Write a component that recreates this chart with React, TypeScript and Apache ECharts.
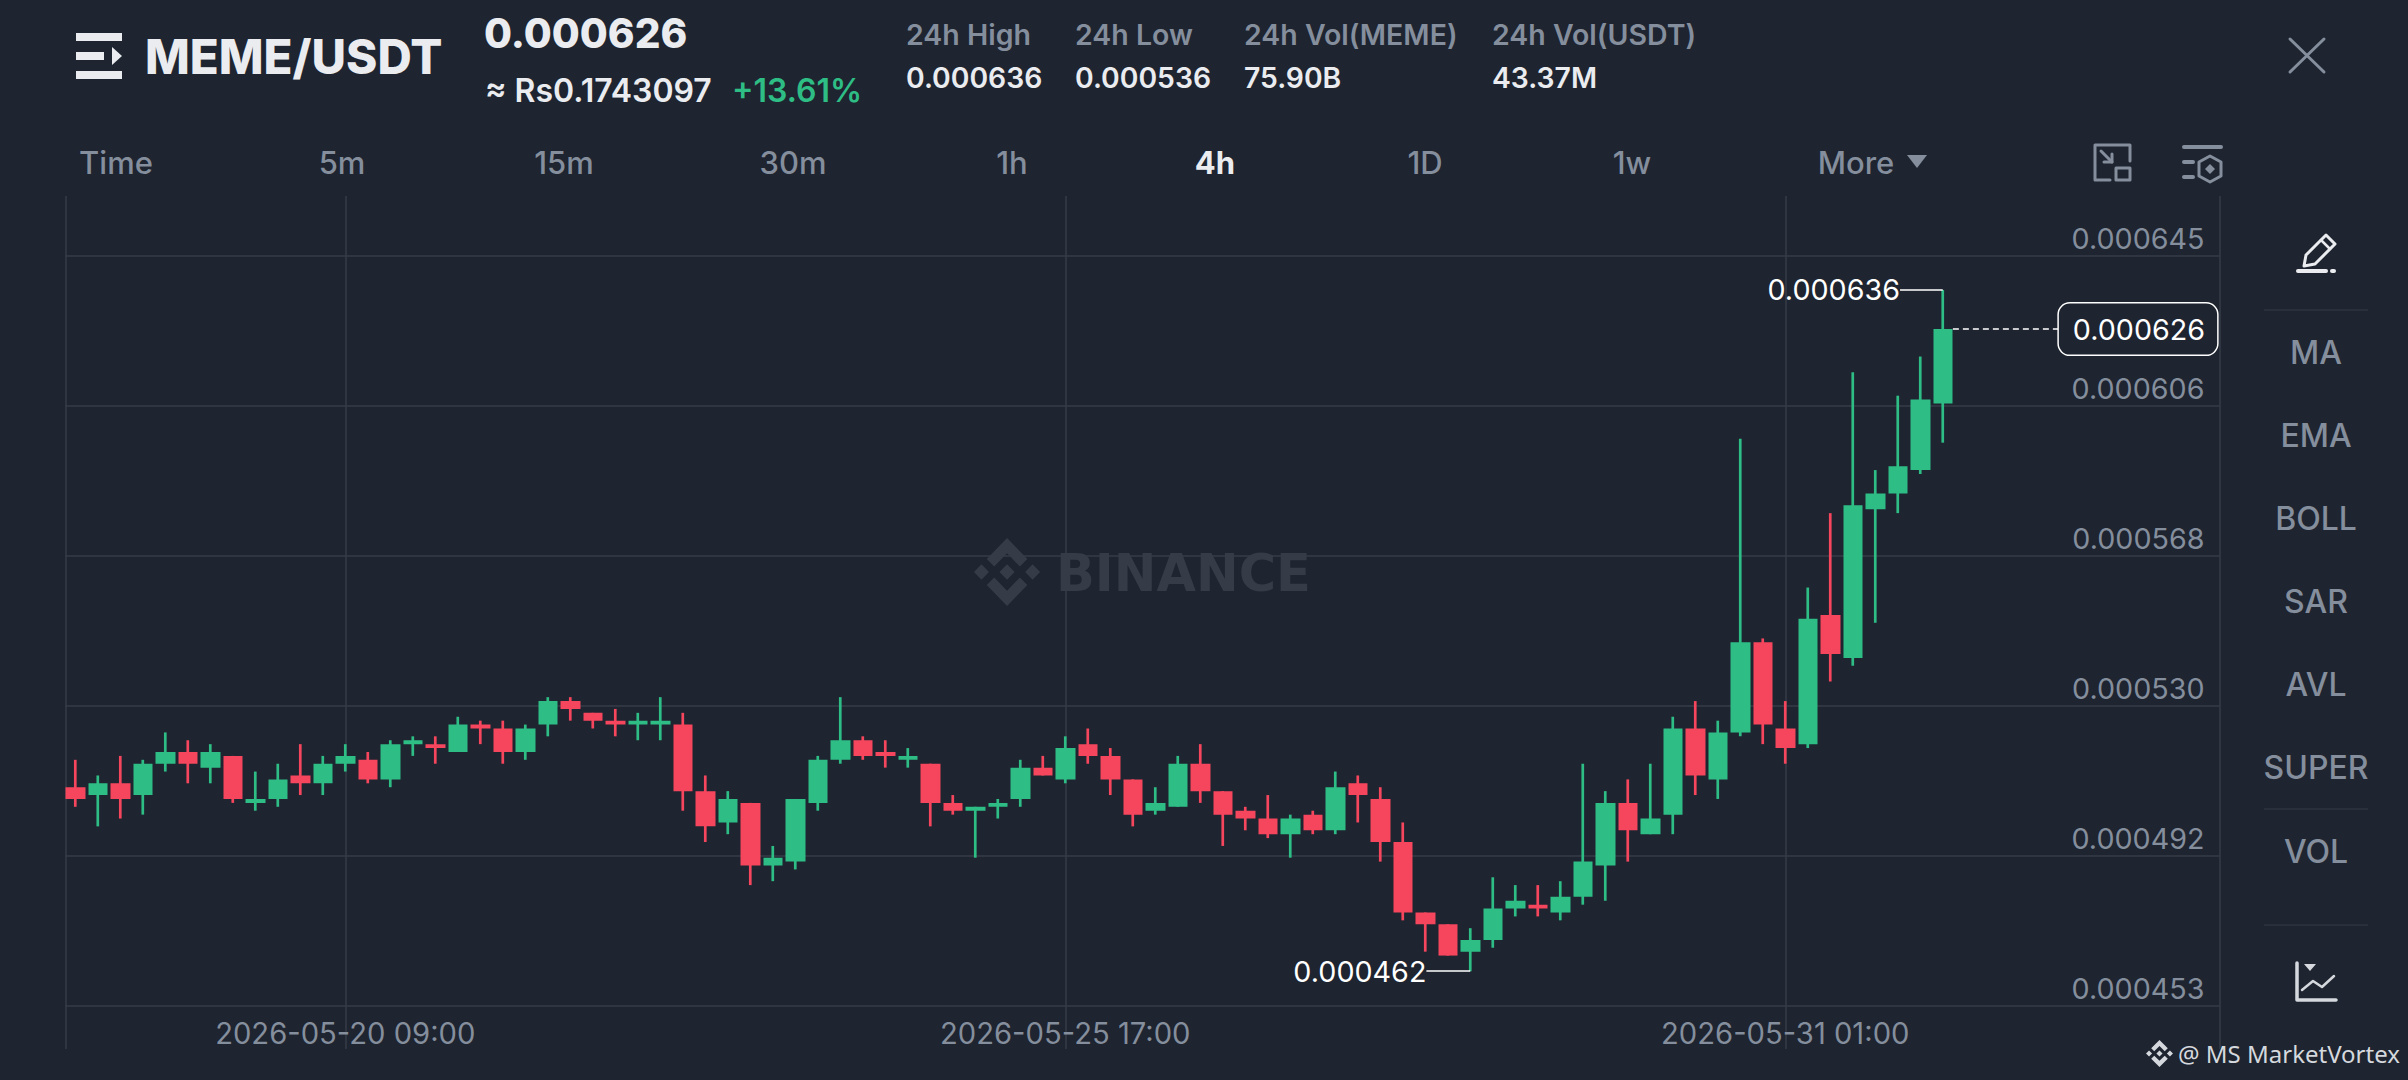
import React, { useEffect, useRef } from "react";
import * as echarts from "echarts";

const FONT = "Inter, 'Noto Sans', sans-serif";
const BG = "#1e2430";
const GREEN = "#2ebd85";
const RED = "#f6465d";
const GRAY = "#848e9c";
const WHITE = "#eaecef";
const GRID = "#363c47";

// Prices are in millionths of a USDT (0.000626 = 626)
const opens = [509,507,510,507,515,518,514,517,505,506,512,510,515,516,511,520,520,518,525,524,518,525,531,528,526,525,525,525,508,500,505,489,490,505,516,521,518,516,515,505,503,504,506,514,511,520,517,511,503,504,515,508,503,501,497,502,498,510,506,495,477,474,467,470,478,479,477,481,489,505,497,502,524,511,523,546,524,520,553,542,580,584,590,607];
const closes = [506,510,506,515,518,515,518,506,506,511,510,515,517,511,520,521,519,525,524,518,524,531,529,526,525,526,526,508,499,506,489,491,506,516,521,517,517,517,505,503,504,505,514,512,519,517,511,502,505,515,508,502,501,497,501,498,509,507,495,477,474,466,470,478,480,478,481,490,505,498,501,524,512,523,546,525,519,552,543,581,584,591,608,626];
const lows = [504,499,501,502,513,510,510,505,503,504,507,507,513,510,509,517,515,518,520,515,516,522,526,524,522,521,521,503,495,497,484,485,488,503,515,516,514,514,499,502,491,501,504,512,510,515,507,499,502,504,505,494,498,496,491,497,497,500,490,475,467,466,462,468,476,476,475,479,480,490,497,497,507,506,522,520,515,519,536,540,551,579,589,597];
const highs = [516,512,517,516,523,521,520,517,513,515,520,517,520,518,521,522,522,527,526,526,525,532,532,528,529,528,532,528,512,508,505,494,506,517,532,522,521,519,515,507,504,506,516,517,522,524,519,511,509,517,520,508,504,507,502,503,513,512,509,500,477,474,473,486,484,484,485,515,508,511,515,527,531,526,598,547,531,560,579,615,590,609,619,636];

const yTicks = [453.2, 491.6, 529.8, 568.1, 606.4, 644.7];
const timeTickIndex = [12, 44, 76];
const timeTickLabels = ["2026-05-20 09:00", "2026-05-25 17:00", "2026-05-31 01:00"];
const lastPrice = 626;
const highPrice = 636;
const lowPrice = 462;

const intervals: [string, number][] = [["Time",116],["5m",342],["15m",564],["30m",793],["1h",1012],["4h",1215],["1D",1425],["1w",1632],["More",1856]];
const railLabels: [string, number][] = [["MA",353],["EMA",436],["BOLL",519],["SAR",602],["AVL",685],["SUPER",768],["VOL",852]];
const statHeads: [string, number][] = [["24h High",906],["24h Low",1075],["24h Vol(MEME)",1244],["24h Vol(USDT)",1492]];
const statValues: [string, number][] = [["0.000636",906],["0.000536",1075],["75.90B",1244],["43.37M",1492]];

const LOGO = "M38.73 53.2l24.59-24.58 24.6 24.6 14.3-14.31L63.32 0 24.42 38.9zM0 63.31l14.3-14.31 14.31 14.31-14.31 14.3zM38.73 73.41l24.59 24.59 24.6-24.6 14.31 14.29-38.9 38.91-38.91-38.88-.02-.02zM98 63.31l14.3-14.31 14.31 14.31-14.31 14.3zM77.83 63.3L63.32 48.78 52.59 59.51l-1.24 1.23-2.54 2.54 14.51 14.5 14.51-14.47z";
echarts.graphic.registerShape("binanceLogo", echarts.graphic.extendPath(LOGO, {}) as any);

const txt = (text: string, x: number, y: number, fontSize: number, fill: string, fontWeight: number | string = 500, textAlign = "left", extra: any = {}) => ({
  type: "text",
  silent: true,
  style: { text, x, y, fontSize, fill, fontWeight, fontFamily: FONT, textAlign, textVerticalAlign: "middle", ...extra },
});
const stroke = (color: string, lineWidth: number) => ({ stroke: color, lineWidth, fill: "none", lineCap: "round", lineJoin: "round" });
const pl = (points: number[][], color: string, w: number) => ({ type: "polyline", silent: true, shape: { points }, style: stroke(color, w) });

const graphics: any[] = [
  { type: "binanceLogo", silent: true, z: 0, x: 974, y: 538, scaleX: 0.522, scaleY: 0.537, style: { fill: "#363c47" } },
  { type: "text", silent: true, z: 0, style: { text: "BINANCE", x: 1056, y: 573, fontSize: 51, fontWeight: 700, fill: "#363c47", fontFamily: "'DejaVu Sans', sans-serif", textVerticalAlign: "middle", textAlign: "left" } },
  // brand mark
  { type: "rect", silent: true, shape: { x: 76, y: 33, width: 46, height: 8 }, style: { fill: WHITE } },
  { type: "rect", silent: true, shape: { x: 76, y: 52, width: 28, height: 8 }, style: { fill: WHITE } },
  { type: "polygon", silent: true, shape: { points: [[112, 47], [122, 56], [112, 65]] }, style: { fill: WHITE } },
  { type: "rect", silent: true, shape: { x: 76, y: 71, width: 46, height: 8 }, style: { fill: WHITE } },
  txt("MEME/USDT", 145, 56, 47.5, WHITE, 800),
  txt("0.000626", 484, 33, 40.5, WHITE, 800),
  txt("≈ Rs0.1743097", 485, 90, 32, WHITE, 600),
  txt("+13.61%", 732, 90, 32, GREEN, 600),
  ...statHeads.map(([t, x]) => txt(t, x, 34, 28.5, GRAY, 600)),
  ...statValues.map(([t, x]) => txt(t, x, 78, 28.3, WHITE, 600)),
  ...intervals.map(([t, x]) => txt(t, x, 162, 31, t === "4h" ? WHITE : GRAY, t === "4h" ? 700 : 500, "center")),
  { type: "polygon", silent: true, shape: { points: [[1907, 155], [1927, 155], [1917, 168]] }, style: { fill: GRAY } },
  // toolbar icons
  pl([[2110, 180], [2095, 180], [2095, 145], [2130, 145], [2130, 161]], GRAY, 3),
  { type: "rect", silent: true, shape: { x: 2116, y: 168, width: 14, height: 12 }, style: stroke(GRAY, 3) },
  pl([[2101, 151], [2112, 162]], GRAY, 3),
  pl([[2112, 154], [2112, 162], [2104, 162]], GRAY, 3),
  pl([[2184, 147], [2221, 147]], GRAY, 4),
  pl([[2184, 162], [2193, 162]], GRAY, 4),
  pl([[2184, 177], [2193, 177]], GRAY, 4),
  { type: "polygon", silent: true, shape: { points: [[2210, 156], [2221, 162], [2221, 176], [2210, 182], [2199, 176], [2199, 162]] }, style: stroke(GRAY, 3) },
  { type: "polygon", silent: true, shape: { points: [[2210, 164], [2215, 169], [2210, 174], [2205, 169]] }, style: { fill: GRAY } },
  // close
  pl([[2290, 39], [2324, 72]], GRAY, 3),
  pl([[2324, 39], [2290, 72]], GRAY, 3),
  // pencil
  { type: "polygon", silent: true, shape: { points: [[2306, 255], [2326, 235], [2335, 244], [2315, 264], [2304, 266]] }, style: stroke(WHITE, 3) },
  pl([[2321, 240], [2330, 249]], WHITE, 2.5),
  pl([[2298, 271], [2326, 271]], WHITE, 4),
  pl([[2332, 271], [2334, 271]], WHITE, 4),
  // rail
  ...railLabels.map(([t, y]) => txt(t, 2316, y - 1, 32, GRAY, 500, "center")),
  ...[310, 809, 925].map((y) => ({ type: "line", silent: true, shape: { x1: 2264, y1: y, x2: 2368, y2: y }, style: { stroke: "#2e343f", lineWidth: 1.5 } })),
  // indicator icon
  pl([[2297, 963], [2297, 1000], [2336, 1000]], "#d5d9de", 3.5),
  { type: "polygon", silent: true, shape: { points: [[2304, 964], [2316, 964], [2310, 971]] }, style: { fill: "#d5d9de" } },
  pl([[2302, 990], [2313, 981], [2322, 987], [2334, 976]], "#d5d9de", 2.5),
  // attribution
  { type: "binanceLogo", silent: true, x: 2146, y: 1040, scaleX: 0.213, scaleY: 0.213, style: { fill: "#d5d9de" } },
  { type: "text", silent: true, style: { text: "@ MS MarketVortex", x: 2178, y: 1053, fontSize: 24, fontWeight: 400, fill: "#d5d9de", fontFamily: "'Noto Sans', sans-serif", textVerticalAlign: "middle", textAlign: "left" } },
];

export default function App() {
  const ref = useRef<HTMLDivElement>(null);
  useEffect(() => {
    document.body.style.margin = "0";
    document.body.style.background = BG;
    const chart = echarts.init(ref.current!, undefined, { renderer: "svg" });
    const xMin = -0.444;
    const xMax = 95.3;
    const candle = opens.map((o, i) => [i, o, closes[i], lows[i], highs[i]]);
    const wicks = opens.map((o, i) => [i, lows[i], highs[i], closes[i] >= o ? 1 : -1]);
    const n = opens.length - 1;
    const lowIdx = lows.indexOf(lowPrice);
    const leaderStyle = { color: "#ffffff", width: 1.5, type: "solid" as const };
    const leaderLabel = (v: number) => ({
      show: true, position: "end" as const, distance: 0, color: "#ffffff", fontFamily: FONT, fontSize: 28.7,
      formatter: (v / 1e6).toFixed(6),
    });
    chart.setOption({
      animation: false,
      backgroundColor: BG,
      graphic: graphics,
      grid: { left: 65.3, top: 196, width: 2154.2, height: 853, containLabel: false },
      xAxis: {
        type: "value", min: xMin, max: xMax,
        axisLine: { show: false },
        axisTick: { show: false, customValues: [xMin, ...timeTickIndex, xMax] },
        splitLine: { show: true, lineStyle: { color: GRID, width: 1.5 } },
        axisLabel: {
          inside: true, margin: 1, color: GRAY, fontFamily: FONT, fontSize: 29.2,
          customValues: timeTickIndex,
          formatter: (v: number) => timeTickLabels[timeTickIndex.indexOf(v)] ?? "",
        },
      },
      yAxis: {
        type: "value", position: "right", min: 442.14, max: 660,
        axisLine: { show: false },
        axisTick: { show: false, customValues: yTicks },
        splitLine: { show: true, lineStyle: { color: GRID, width: 1.5 } },
        axisLabel: {
          inside: true, margin: 15, color: GRAY, fontFamily: FONT, fontSize: 28.7,
          verticalAlign: "bottom", lineHeight: 28, padding: [0, 0, 3, 0],
          customValues: yTicks,
          formatter: (v: number) => (v / 1e6).toFixed(6),
        },
      },
      series: [
        {
          type: "custom", silent: true, z: 2,
          renderItem: (_: any, api: any) => {
            const a = api.coord([api.value(0), api.value(1)]);
            const b = api.coord([api.value(0), api.value(2)]);
            return { type: "line", shape: { x1: a[0], y1: a[1], x2: b[0], y2: b[1] }, style: { stroke: api.value(3) > 0 ? GREEN : RED, lineWidth: 2.7 } };
          },
          encode: { x: 0, y: [1, 2] },
          data: wicks,
        },
        {
          type: "candlestick", z: 3, barWidth: 20,
          itemStyle: { color: GREEN, color0: RED, borderColor: GREEN, borderColor0: RED, borderWidth: 0 },
          data: candle,
          markLine: {
            silent: true, symbol: "none", animation: false,
            data: [
              [
                { coord: [n + 0.45, lastPrice], lineStyle: { color: "#ffffff", width: 1.5, type: [6, 4] } },
                {
                  coord: [88.16, lastPrice],
                  label: {
                    show: true, position: "end", distance: 0, color: "#ffffff", fontFamily: FONT, fontSize: 28.7,
                    formatter: (lastPrice / 1e6).toFixed(6),
                    backgroundColor: BG, borderColor: "#ffffff", borderWidth: 1.5, borderRadius: 11,
                    padding: [12, 12, 10, 14],
                  },
                },
              ],
              [
                { coord: [n, highPrice], lineStyle: leaderStyle },
                { coord: [n - 1.9, highPrice], label: leaderLabel(highPrice) },
              ],
              [
                { coord: [lowIdx, lowPrice], lineStyle: leaderStyle },
                { coord: [lowIdx - 1.95, lowPrice], label: leaderLabel(lowPrice) },
              ],
            ],
          },
        },
      ],
    });
    return () => chart.dispose();
  }, []);
  return <div ref={ref} style={{ position: "fixed", left: 0, top: 0, width: 2408, height: 1080 }} />;
}
